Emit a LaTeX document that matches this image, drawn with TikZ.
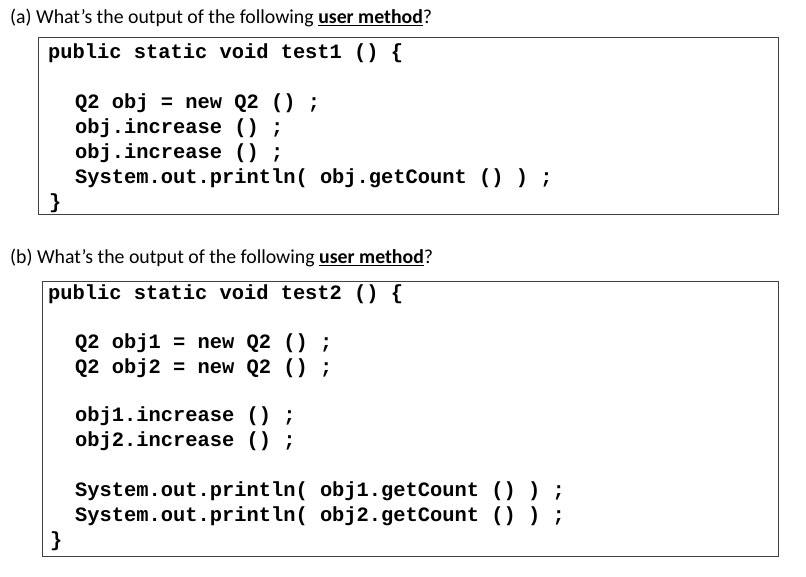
\documentclass[tikz,border=0pt]{standalone}
\usepackage{fontspec}
\setmainfont{Carlito}
\newfontfamily\codefont{Liberation Mono}
\begin{document}
\begin{tikzpicture}[x=1pt,y=-1pt,
  hdr/.style={anchor=west,inner sep=0pt,font=\fontsize{19.8}{22}\selectfont},
  code/.style={anchor=west,inner sep=0pt,font=\codefont\bfseries\fontsize{20.4}{22}\selectfont},
  cbox/.style={draw=black!75,line width=1pt}]
\useasboundingbox (0,0) rectangle (806,577);
\node[hdr] (ha) at (10,18) {(a) What’s the output of the following \textbf{\underline{user method}}?};
\draw[cbox] (38,38) rectangle (778,215);
\node[code] (a1) at (48,53) {public static void test1 () \{};
\node[code] (a2) at (75,103) {Q2 obj = new Q2 () ;};
\node[code] (a3) at (75,128) {obj.increase () ;};
\node[code] (a4) at (75,153) {obj.increase () ;};
\node[code] (a5) at (75,178) {System.out.println( obj.getCount () ) ;};
\node[code] (a6) at (49,203) {\}};
\node[hdr] (hb) at (10,258) {(b) What’s the output of the following \textbf{\underline{user method}}?};
\draw[cbox] (42,282) rectangle (778,556);
\node[code] (b1) at (48,294) {public static void test2 () \{};
\node[code] (b2) at (75,343) {Q2 obj1 = new Q2 () ;};
\node[code] (b3) at (75,368) {Q2 obj2 = new Q2 () ;};
\node[code] (b4) at (75,416) {obj1.increase () ;};
\node[code] (b5) at (75,441) {obj2.increase () ;};
\node[code] (b6) at (75,491) {System.out.println( obj1.getCount () ) ;};
\node[code] (b7) at (75,516) {System.out.println( obj2.getCount () ) ;};
\node[code] (b8) at (50,541) {\}};
\end{tikzpicture}
\end{document}
